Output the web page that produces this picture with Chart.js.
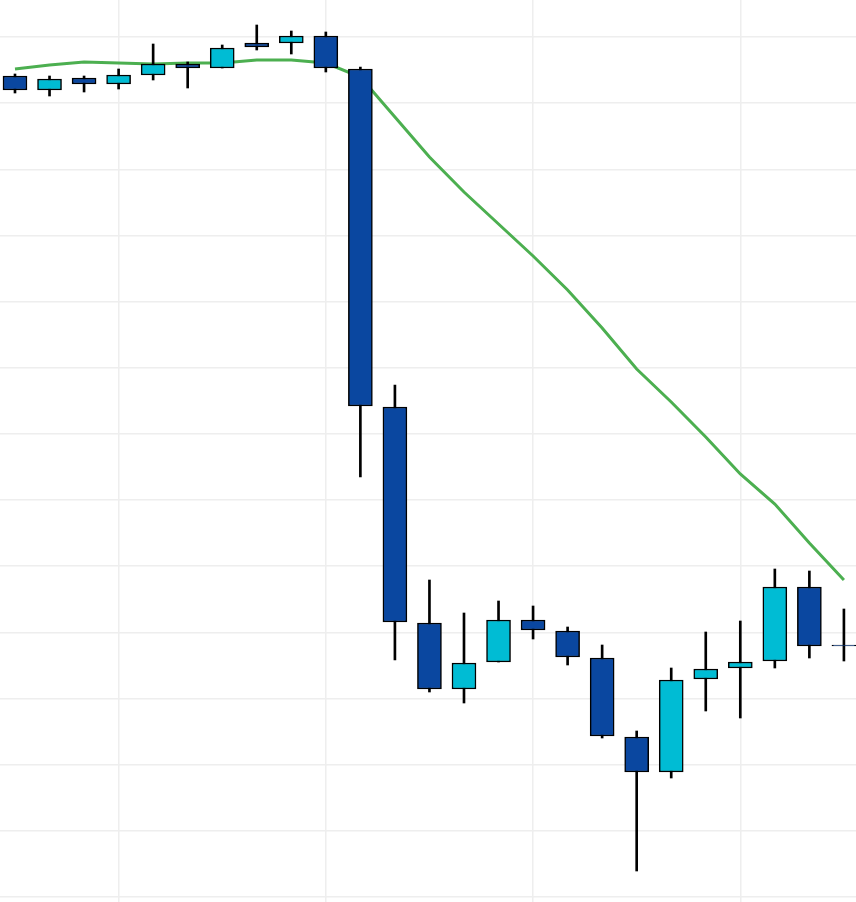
<!DOCTYPE html>
<html>
<head>
<meta charset="utf-8">
<script src="https://cdn.jsdelivr.net/npm/chart.js@4"></script>
<style>
  html, body { margin: 0; padding: 0; background: #fff; }
  #wrap { width: 856px; height: 902px; }
</style>
</head>
<body>
<div id="wrap"><canvas id="candles"></canvas></div>
<script>
// candle values
var openV  = [924, 910, 922, 916, 925, 936, 932, 957, 957, 964, 931, 593, 377, 311, 338, 380, 369, 342, 263, 228, 321, 332, 339, 413, 355];
var closeV = [910, 921, 916, 925, 936, 932, 952, 953, 964, 932, 594, 378, 311, 337, 380, 370, 343, 264, 228, 320, 331, 338, 413, 354, 354];
var highV  = [926, 924, 924, 931, 956, 938, 955, 975, 969, 968, 933, 615, 420, 387, 399, 394, 373, 355, 269, 332, 368, 379, 431, 429, 391];
var lowV   = [907, 904, 908, 911, 920, 912, 932, 950, 946, 928, 523, 340, 308, 297, 338, 361, 335, 262, 129, 222, 289, 282, 332, 342, 339];
var maV    = [931, 935, 938, 937, 936, 937, 937, 940, 940, 937, 923, 883, 843, 808, 776, 744, 710, 672, 631, 598, 563, 526, 496, 457, 420];

var upColor = "#00bcd4";
var downColor = "#0a47a0";

var bodies = [], wicks = [], colors = [], ma = [];
for (var i = 0; i < openV.length; i++) {
    var lo = Math.min(openV[i], closeV[i]);
    var hi = Math.max(openV[i], closeV[i]);
    if (hi - lo < 1) hi = lo + 1;
    bodies.push({ x: i, y: [lo, hi] });
    wicks.push({ x: i, y: [lowV[i], highV[i]] });
    colors.push(closeV[i] >= openV[i] ? upColor : downColor);
    ma.push({ x: i, y: maV[i] });
}

new Chart("candles", {
    type: "bar",
    data: {
        datasets: [
            {
                type: "line",
                data: ma,
                borderColor: "#4caf50",
                borderWidth: 3,
                pointRadius: 0,
                tension: 0,
                order: 3
            },
            {
                data: wicks,
                backgroundColor: "#000",
                barThickness: 2,
                grouped: false,
                order: 2
            },
            {
                data: bodies,
                backgroundColor: colors,
                borderColor: "#000",
                borderWidth: 1.5,
                borderSkipped: false,
                barThickness: 24,
                grouped: false,
                order: 1
            }
        ]
    },
    options: {
        responsive: true,
        maintainAspectRatio: false,
        animation: false,
        layout: { padding: 0 },
        plugins: { legend: { display: false }, tooltip: { enabled: false } },
        scales: {
            x: {
                type: "linear",
                min: -0.434,
                max: 24.35,
                offset: false,
                afterBuildTicks: function (axis) {
                    axis.ticks = [0, 6, 12, 18, 24].map(function (v) { return { value: v }; });
                },
                ticks: { display: false },
                border: { display: false },
                grid: { color: "#eeeeee", lineWidth: 1.5, drawTicks: false }
            },
            y: {
                min: 98,
                max: 1000,
                afterBuildTicks: function (axis) {
                    var t = [];
                    for (var k = 0; k < 14; k++) t.push({ value: 963 - 66.15 * k });
                    axis.ticks = t;
                },
                ticks: { display: false },
                border: { display: false },
                grid: { color: "#eeeeee", lineWidth: 1.5, drawTicks: false }
            }
        }
    }
});
</script>
</body>
</html>
